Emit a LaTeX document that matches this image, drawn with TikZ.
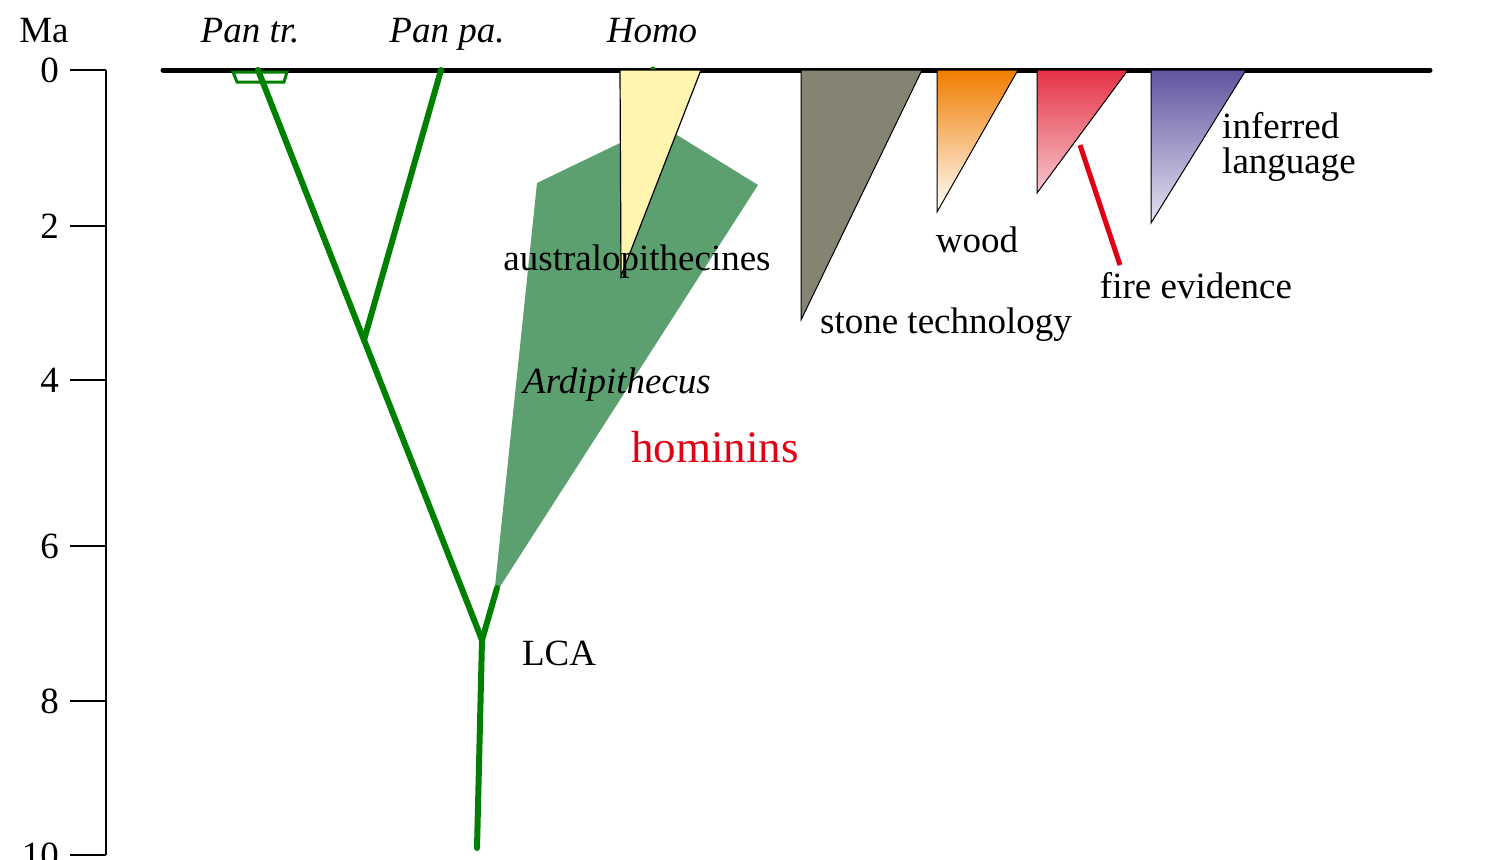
\documentclass[tikz,border=0pt]{standalone}
\usepackage{fontspec}
\setmainfont{Liberation Serif}
\usetikzlibrary{positioning}
\definecolor{treegreen}{RGB}{0,128,0}
\definecolor{hominfill}{RGB}{92,160,112}
\definecolor{homoyellow}{RGB}{255,245,175}
\definecolor{stonegray}{RGB}{133,132,115}
\definecolor{woodorange}{RGB}{240,125,0}
\definecolor{firered}{RGB}{230,50,70}
\definecolor{firepink}{RGB}{248,200,205}
\definecolor{langblue}{RGB}{95,85,160}
\definecolor{langpale}{RGB}{228,228,242}
\definecolor{markred}{RGB}{225,0,20}

\begin{document}
\begin{tikzpicture}[x=1pt,y=-1pt,font=\fontsize{37}{35}\selectfont,
  branch/.style={treegreen,line width=6pt,line cap=round,line join=round},
  lab/.style={anchor=base,inner sep=0pt}]
  \useasboundingbox (0,0) rectangle (1498,859);

  % time axis
  \draw[line width=2.5pt] (106,70) -- (106,855);
  \foreach \y/\t in {70/0, 226/2, 380/4, 546/6, 701/8, 855/10}
  {
    \draw[line width=2.5pt] (70,\y) -- (106,\y);
    \node[lab,anchor=base east] (tick\t) at (59,\y+12) {\t};
  }
  \node[lab] (ma) at (44,42) {Ma};
  \draw[line width=5pt,line cap=round] (163,70) -- (1430,70);

  % hominin wedge
  \fill[hominfill] (537,183) -- (620,143) -- (677,135) -- (758,185) -- (494,596) -- cycle;

  % tree
  \coordinate (root) at (477,848);
  \coordinate (lca) at (482,640);
  \coordinate (split) at (364,340);
  \coordinate (pantr) at (258,70);
  \coordinate (panpa) at (441,70);
  \coordinate (homin) at (497,588);
  \draw[treegreen,line width=3pt] (233,72) -- (287,72) -- (284,82) -- (237,82) -- cycle;
  \draw[branch] (root) -- (lca) -- (split) -- (pantr);
  \draw[branch] (split) -- (panpa);
  \draw[branch] (lca) -- (homin);
  \fill[treegreen] (653,69) circle (2.5);

  % Homo
  \filldraw[fill=homoyellow,draw=black,line width=1.2pt] (620,70) -- (701,70) -- (621,276) -- cycle;

  % technology
  \foreach \a/\b/\c/\ca/\cb in {801/922/320/stonegray/stonegray, 937/1018/212/woodorange/white,
    1037/1128/193/firered/firepink, 1151/1246/223/langblue/langpale}
    \shadedraw[top color=\ca,bottom color=\cb,draw=black,line width=1pt] (\a,70) -- (\b,70) -- (\a,\c) -- cycle;
  \coordinate (firetop) at (1080,145);
  \coordinate (firebot) at (1120,265);
  \draw[markred,line width=5pt] (firetop) -- (firebot);

  % labels
  \node[lab] (pantrl) at (250,42) {\itshape Pan tr.};
  \node[lab] (panpal) at (447,42) {\itshape Pan pa.};
  \node[lab] (homol) at (652,42) {\itshape Homo};
  \node[lab] (austr) at (637,270) {australopithecines};
  \node[lab] (ardi) at (617,393) {\itshape Ardipithecus};
  \node[lab,text=markred,font=\fontsize{45}{50}\selectfont] (homs) at (715,462) {hominins};
  \node[lab] (lcal) at (559,665) {LCA};
  \node[lab] (stone) at (946,333) {stone technology};
  \node[lab] (wood) at (977,252) {wood};
  \node[lab] (fire) at (1196,298) {fire evidence};
  \node[lab,anchor=base west,align=left] (lang) at (1222,173) {inferred\\language};
\end{tikzpicture}
\end{document}
